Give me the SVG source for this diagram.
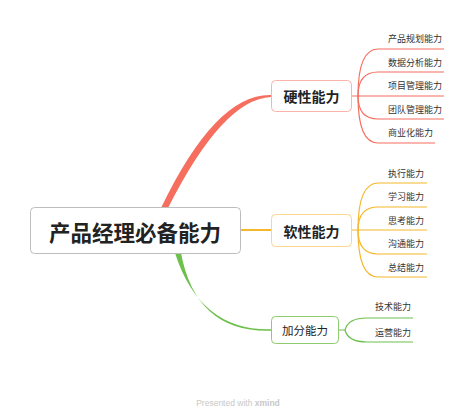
<svg xmlns="http://www.w3.org/2000/svg" width="474" height="417" viewBox="0 0 474 417">
<style>
text{font-family:"Noto Sans CJK SC","Noto Sans",sans-serif;fill:#222}
.leaf{font-size:9px;fill:#333}
.mid{font-size:14px;font-weight:bold;text-anchor:middle;dominant-baseline:central}
.red{stroke:#F56E5E;fill:none;stroke-width:1.2}
.org{stroke:#F6B72A;fill:none;stroke-width:1.2}
.grn{stroke:#6DC04B;fill:none;stroke-width:1.2}
</style>
<rect width="474" height="417" fill="#fff"/>
<g id="connectors">
<path d="M161,208 Q216,93.5 271,95 L271,97 Q223,99 168,208 Z" fill="#F56E5E"/>
<path d="M175,253 Q200,331 271,329.3 L271,330.7 Q196,333 181,253 Z" fill="#6DC04B"/>
<path d="M241,230 L271,230" stroke="#F6B72A" stroke-width="2" fill="none"/>
<path class="red" d="M352,96 L358,96 Q358,49 378,49 L444,49"/>
<path class="red" d="M358,96 Q358,72 378,72 L444,72"/>
<path class="red" d="M358,96 L444,96"/>
<path class="red" d="M358,96 Q358,119 378,119 L444,119"/>
<path class="red" d="M358,96 Q358,143 378,143 L435,143"/>
<path class="org" d="M352,230 L358,230 Q358,183 378,183 L427,183"/>
<path class="org" d="M358,230 Q358,207 378,207 L427,207"/>
<path class="org" d="M358,230 L427,230"/>
<path class="org" d="M358,230 Q358,254 378,254 L427,254"/>
<path class="org" d="M358,230 Q358,277 378,277 L427,277"/>
<path class="grn" d="M339,330 L345,330 Q348,318 367,318 L413,318"/>
<path class="grn" d="M345,330 Q348,342 367,342 L413,342"/>
</g>
<g id="root">
<rect x="30.5" y="207.5" width="210" height="46" rx="4" fill="#fff" stroke="#BDBDBD"/>
<text x="135" y="231" font-size="21.5" font-weight="bold" text-anchor="middle" dominant-baseline="central">产品经理必备能力</text>
</g>
<g id="hard">
<rect x="271.5" y="80.5" width="80" height="31" rx="4" fill="#fff" stroke="#F9B3AA"/>
<text class="mid" x="311.5" y="96">硬性能力</text>
</g>
<g id="soft">
<rect x="271.5" y="214.5" width="80" height="32" rx="4" fill="#fff" stroke="#F8D68C"/>
<text class="mid" x="311.5" y="230.5">软性能力</text>
</g>
<g id="plus">
<rect x="271.5" y="316.5" width="67" height="27" rx="4" fill="#fff" stroke="#8FCB70"/>
<text x="305" y="330" font-size="11.5" text-anchor="middle" dominant-baseline="central">加分能力</text>
</g>
<g id="hard-leaves">
<text class="leaf" x="388" y="42">产品规划能力</text>
<text class="leaf" x="388" y="66">数据分析能力</text>
<text class="leaf" x="388" y="89">项目管理能力</text>
<text class="leaf" x="388" y="113">团队管理能力</text>
<text class="leaf" x="388" y="136">商业化能力</text>
</g>
<g id="soft-leaves">
<text class="leaf" x="388" y="177">执行能力</text>
<text class="leaf" x="388" y="200">学习能力</text>
<text class="leaf" x="388" y="224">思考能力</text>
<text class="leaf" x="388" y="247">沟通能力</text>
<text class="leaf" x="388" y="271">总结能力</text>
</g>
<g id="plus-leaves">
<text class="leaf" x="375" y="310" font-size="8.5">技术能力</text>
<text class="leaf" x="375" y="336" font-size="8.5">运营能力</text>
</g>
<text x="238" y="406" font-size="8.5" text-anchor="middle" style="fill:#C8C8C8;font-family:'Liberation Sans',sans-serif">Presented with <tspan font-weight="bold">xmind</tspan></text>
</svg>
